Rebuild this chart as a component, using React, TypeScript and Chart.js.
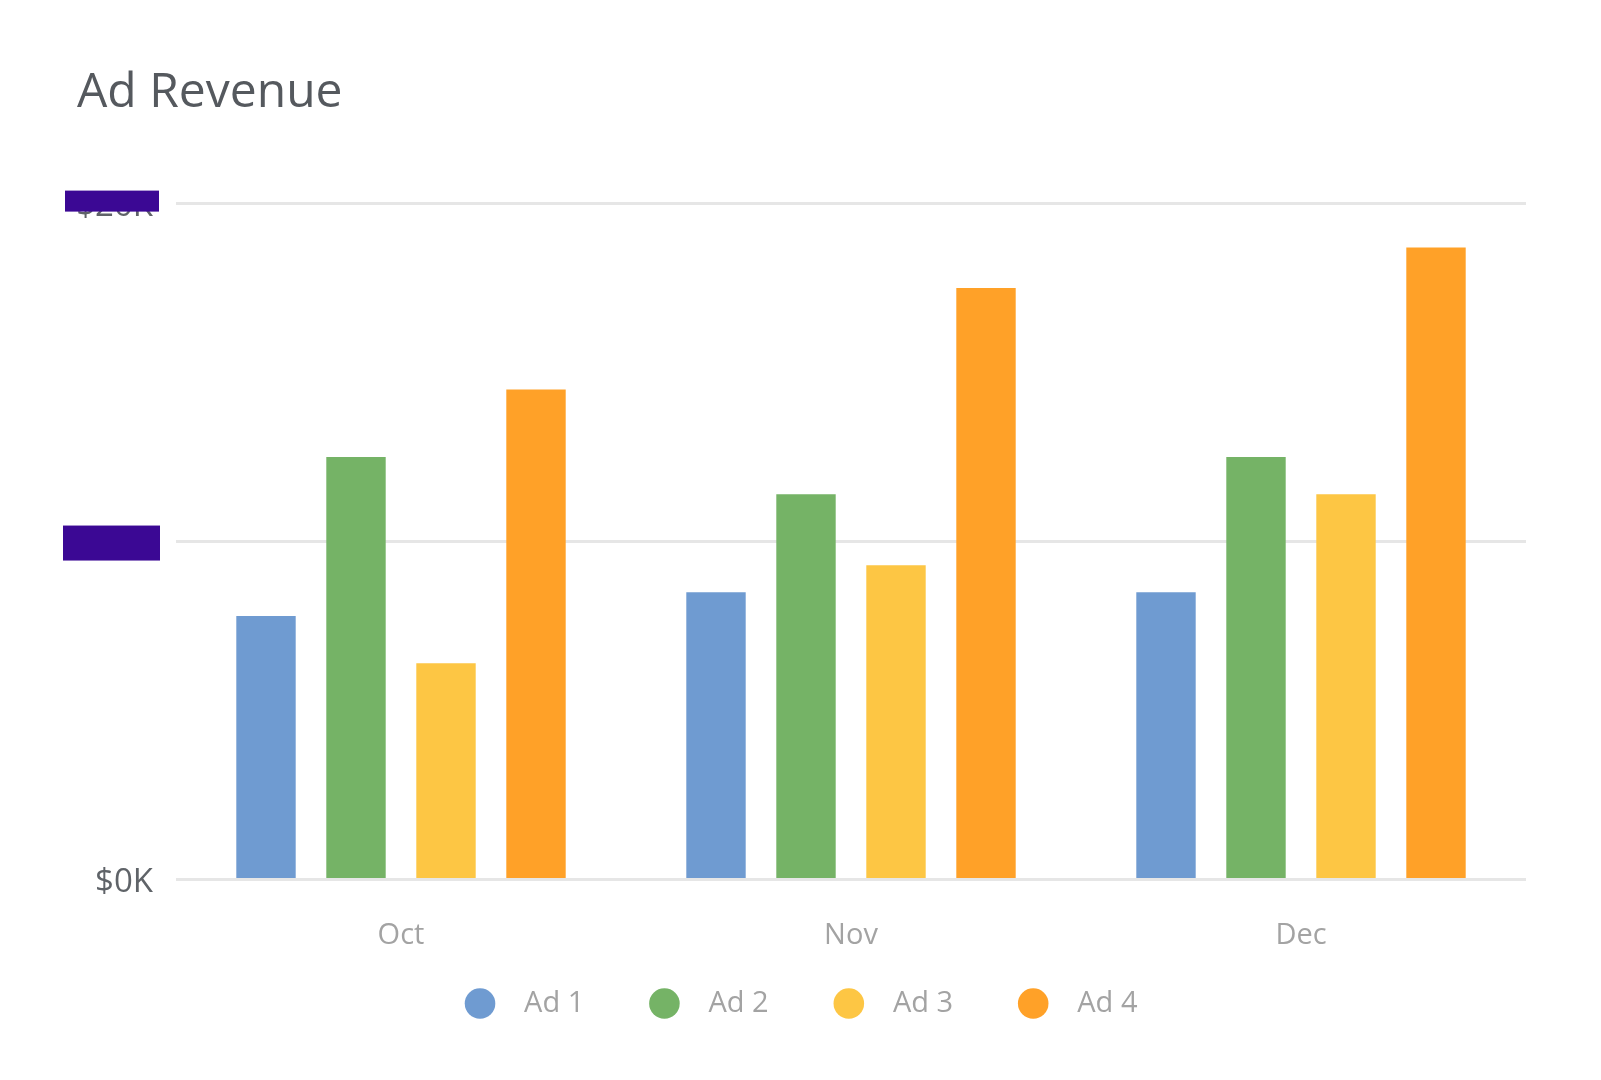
import React, { useEffect, useRef } from "react";
import { Chart, registerables } from "chart.js";

Chart.register(...registerables);

const categories = ["Oct", "Nov", "Dec"];
const seriesNames = ["Ad 1", "Ad 2", "Ad 3", "Ad 4"];
const ad1 = [7.8, 8.5, 8.5];
const ad2 = [12.5, 11.4, 12.5];
const ad3 = [6.4, 9.3, 11.4];
const ad4 = [14.5, 17.5, 18.7];
const yTicks = [0, 10, 20];
const colors = ["#6f9bd1", "#75b366", "#fdc644", "#ffa128"];

const FONT = "'Open Sans', 'Noto Sans', sans-serif";

const redactPlugin = {
  id: "redact",
  afterDraw(chart: any) {
    const { ctx, chartArea, scales } = chart;
    const y = scales.y;
    ctx.save();
    ctx.fillStyle = "#3b0894";
    const y20 = y.getPixelForValue(yTicks[2]);
    ctx.fillRect(chartArea.left - 111, y20 - 13, 94, 21);
    const y10 = y.getPixelForValue(yTicks[1]);
    ctx.fillRect(chartArea.left - 113, y10 - 16, 97, 35);
    ctx.restore();
  },
};

export default function App() {
  const ref = useRef<HTMLCanvasElement | null>(null);
  useEffect(() => {
    document.body.style.margin = "0";
    const values = [ad1, ad2, ad3, ad4];
    const chart = new Chart(ref.current as HTMLCanvasElement, {
      type: "bar",
      data: {
        labels: categories,
        datasets: seriesNames.map((name, i) => ({
          label: name,
          data: values[i],
          backgroundColor: colors[i],
          borderWidth: 0,
          barPercentage: 0.66,
          categoryPercentage: 0.8,
        })),
      },
      options: {
        animation: false,
        responsive: true,
        maintainAspectRatio: false,
        layout: { padding: { left: 77, right: 75, top: 0, bottom: 52 } },
        plugins: {
          title: {
            display: true,
            text: "Ad Revenue",
            align: "start",
            color: "#55595e",
            font: { family: FONT, size: 48, weight: "normal" as any },
            padding: { top: 65, bottom: 81 },
          },
          legend: {
            position: "bottom",
            labels: {
              usePointStyle: true,
              pointStyle: "circle",
              boxWidth: 29,
              boxHeight: 21.6,
              padding: 35.5,
              color: "#a3a3a3",
              font: { family: FONT, size: 29 },
              generateLabels: (c: any) => {
                const items = Chart.defaults.plugins.legend.labels.generateLabels(c);
                return items.map((l: any, i: number) => ({
                  ...l,
                  text: "  " + l.text + (i < items.length - 1 ? "    " : ""),
                  lineWidth: 0,
                }));
              },
            },
          },
          tooltip: { enabled: false },
        },
        scales: {
          x: {
            grid: { display: false, drawTicks: false },
            border: { display: false },
            ticks: {
              padding: 39,
              color: "#a3a3a3",
              font: { family: FONT, size: 29 },
            },
            afterFit: (s: any) => {
              s.height = 74;
            },
          },
          y: {
            min: 0,
            max: 20,
            afterBuildTicks: (s: any) => {
              s.ticks = yTicks.map((v) => ({ value: v }));
            },
            grid: { color: "#e6e6e6", lineWidth: 3, drawTicks: false },
            border: { display: false },
            ticks: {
              padding: 23,
              labelOffset: 3,
              color: "#5f6368",
              font: { family: FONT, size: 33 },
              callback: (v: any) => "$" + v + "K",
            },
            afterFit: (s: any) => {
              s.width = 99;
            },
          },
        },
      },
      plugins: [redactPlugin],
    });
    return () => chart.destroy();
  }, []);
  return (
    <div style={{ position: "absolute", left: 0, top: 0, width: 1601, height: 1080, background: "#fff" }}>
      <canvas ref={ref} />
    </div>
  );
}
